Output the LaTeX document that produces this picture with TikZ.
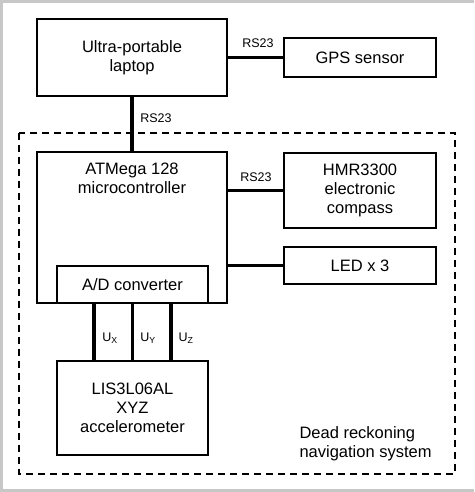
\documentclass[tikz,border=0pt]{standalone}
\usepackage{fontspec}
\setmainfont{Liberation Sans}
\usetikzlibrary{positioning}

\tikzset{
  block/.style={draw, line width=1.3pt, align=center, font=\fontsize{16.5}{19}\selectfont,
    inner sep=0pt},
  wire/.style={line width=3.5pt},
  buslabel/.style={font=\fontsize{12.5}{14}\selectfont, inner sep=1pt},
}

\begin{document}
\begin{tikzpicture}[x=1pt,y=-1pt]
  \useasboundingbox (0,0) rectangle (474,492);
  % outer frame
  \draw[line width=3pt, black!22] (474,1.5) -- (1.5,1.5) -- (1.5,490) -- (474,490);

  % blocks
  \node[block, minimum width=190pt, minimum height=77pt] (laptop) at (132,57.5)
    {Ultra-portable\\laptop};
  \node[block, minimum width=152pt, minimum height=39pt] (gps) at (360,57.5)
    {GPS sensor};
  \node[block, minimum width=190pt, minimum height=151pt] (mcu) at (132,227.5) {};
  \node[font=\fontsize{16.5}{19}\selectfont, align=center, below=8pt of mcu.north]
    (mcutext) {ATMega 128\\microcontroller};
  \node[block, minimum width=151pt, minimum height=37pt] (adc) at (132.5,284.5)
    {A/D converter};
  \node[block, minimum width=152pt, minimum height=75pt] (hmr) at (360,190.5)
    {HMR3300\\electronic\\compass};
  \node[block, minimum width=152pt, minimum height=37pt] (led) at (360,265.5)
    {LED x 3};
  \node[block, minimum width=151pt, minimum height=94pt] (acc) at (132.5,408)
    {LIS3L06AL\\XYZ\\accelerometer};

  % dashed system border
  \draw[line width=1.3pt, dash pattern=on 7pt off 5pt] (19,133) rectangle (455,474);
  \node[font=\fontsize{16.5}{19}\selectfont, align=left, anchor=north west]
    (system) at (296,423) {Dead reckoning\\navigation system};

  % connections
  \draw[wire] (laptop.east) -- (gps.west);
  \draw[wire] (laptop.south) -- (mcu.north);
  \draw[wire] (mcu.east |- hmr.west) -- (hmr.west);
  \draw[wire] (mcu.east |- led.west) -- (led.west);
  \draw[wire] ([xshift=-38.5pt]adc.south) -- ([xshift=-38.5pt]acc.north);
  \draw[wire] (adc.south) -- (acc.north);
  \draw[wire] ([xshift=38.5pt]adc.south) -- ([xshift=38.5pt]acc.north);

  % bus labels
  \node[buslabel] (rsgps) at (258,43) {RS23};
  \node[buslabel] (rsmcu) at (156,118) {RS23};
  \node[buslabel] (rshmr) at (256,177) {RS23};
  \node[buslabel] (ux) at (110,338) {U\textsubscript{X}};
  \node[buslabel] (uy) at (148,338) {U\textsubscript{Y}};
  \node[buslabel] (uz) at (186,338) {U\textsubscript{Z}};
\end{tikzpicture}
\end{document}
